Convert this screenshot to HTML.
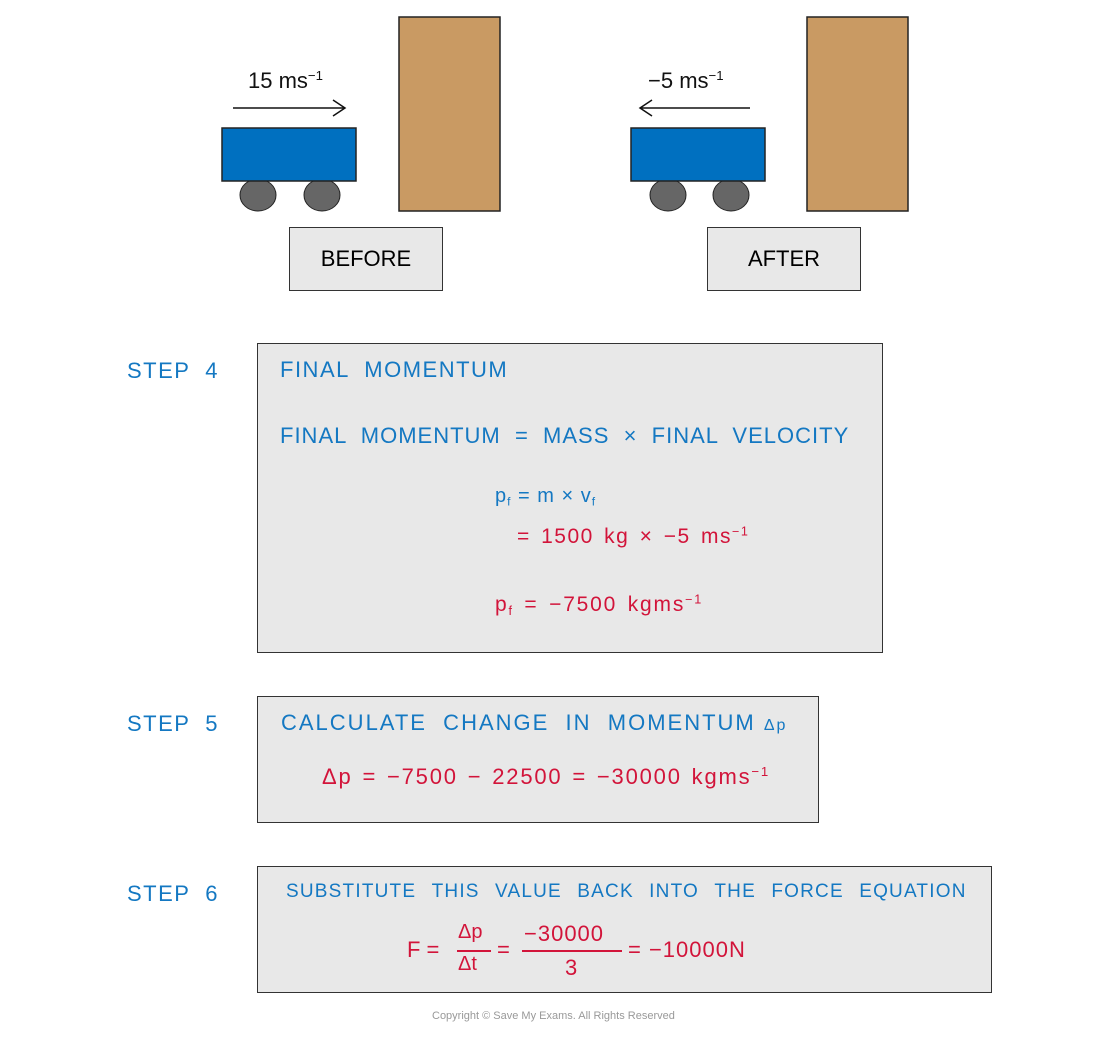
<!DOCTYPE html>
<html><head><meta charset="utf-8"><style>
body{margin:0;width:1100px;height:1037px;background:#fff;position:relative;font-family:"Liberation Sans",sans-serif;overflow:hidden}
.a{position:absolute;white-space:nowrap}
.box{position:absolute;background:#e8e8e8;border:1.5px solid #333;box-sizing:border-box}
.b{color:#1478c2}.r{color:#d2143a}
.lbl{font-size:22px;letter-spacing:1.5px}
sup{font-size:60%;vertical-align:0.6em;line-height:0}
sub{font-size:60%;vertical-align:-0.3em;line-height:0}
</style></head><body>
<svg class="a" style="left:0;top:0" width="1100" height="300">
<rect x="399" y="17" width="101" height="194" fill="#c99a63" stroke="#222" stroke-width="1.5"/>
<rect x="807" y="17" width="101" height="194" fill="#c99a63" stroke="#222" stroke-width="1.5"/>
<ellipse cx="258" cy="195" rx="18" ry="16" fill="#666" stroke="#222"/>
<ellipse cx="322" cy="195" rx="18" ry="16" fill="#666" stroke="#222"/>
<ellipse cx="668" cy="195" rx="18" ry="16" fill="#666" stroke="#222"/>
<ellipse cx="731" cy="195" rx="18" ry="16" fill="#666" stroke="#222"/>
<rect x="222" y="128" width="134" height="53" fill="#0070c0" stroke="#222" stroke-width="1.5"/>
<rect x="631" y="128" width="134" height="53" fill="#0070c0" stroke="#222" stroke-width="1.5"/>
<g stroke="#111" stroke-width="1.5" fill="none">
<path d="M233 108H345M333 100L345 108L333 116"/>
<path d="M640 108H750M652 100L640 108L652 116"/>
</g>
</svg>
<div class="a" style="left:248px;top:68px;font-size:22px;color:#111">15 ms<sup>−1</sup></div>
<div class="a" style="left:648px;top:68px;font-size:22px;color:#111">−5 ms<sup>−1</sup></div>
<div class="box" style="left:289px;top:227px;width:154px;height:64px;text-align:center;line-height:62px;font-size:22px">BEFORE</div>
<div class="box" style="left:707px;top:227px;width:154px;height:64px;text-align:center;line-height:62px;font-size:22px">AFTER</div>

<div class="a b lbl" style="left:127px;top:358px">STEP &nbsp;4</div>
<div class="box" style="left:257px;top:343px;width:626px;height:310px"></div>
<div class="a b lbl" style="left:280px;top:357px">FINAL &nbsp;MOMENTUM</div>
<div class="a b lbl" style="left:280px;top:423px;letter-spacing:1px">FINAL &nbsp;MOMENTUM &nbsp;= &nbsp;MASS &nbsp;× &nbsp;FINAL &nbsp;VELOCITY</div>
<div class="a b" style="left:495px;top:485px;font-size:20px;letter-spacing:1px">p<sub>f</sub> = m × v<sub>f</sub></div>
<div class="a r" style="left:517px;top:525px;font-size:21px;letter-spacing:1.5px;word-spacing:3px">= 1500 kg × −5 ms<sup>−1</sup></div>
<div class="a r" style="left:495px;top:593px;font-size:21px;letter-spacing:1.8px;word-spacing:3px">p<sub>f</sub> = −7500 kgms<sup>−1</sup></div>

<div class="a b lbl" style="left:127px;top:711px">STEP &nbsp;5</div>
<div class="box" style="left:257px;top:696px;width:562px;height:127px"></div>
<div class="a b lbl" style="left:281px;top:710px;letter-spacing:2px">CALCULATE &nbsp;CHANGE &nbsp;IN &nbsp;MOMENTUM <span style="font-size:16px">Δp</span></div>
<div class="a r" style="left:322px;top:764px;font-size:22px;letter-spacing:1.8px;word-spacing:2px">Δp = −7500 − 22500 = −30000 kgms<sup>−1</sup></div>

<div class="a b lbl" style="left:127px;top:881px">STEP &nbsp;6</div>
<div class="box" style="left:257px;top:866px;width:735px;height:127px"></div>
<div class="a b" style="left:286px;top:881px;font-size:19px;letter-spacing:1.2px;word-spacing:1.2px">SUBSTITUTE &nbsp;THIS &nbsp;VALUE &nbsp;BACK &nbsp;INTO &nbsp;THE &nbsp;FORCE &nbsp;EQUATION</div>
<div class="a r" style="left:407px;top:937px;font-size:22px">F =</div>
<div class="a r" style="left:458px;top:921px;font-size:20px">Δp</div>
<div class="a" style="left:457px;top:950px;width:34px;height:2px;background:#d2143a"></div>
<div class="a r" style="left:458px;top:953px;font-size:20px">Δt</div>
<div class="a r" style="left:497px;top:937px;font-size:22px">=</div>
<div class="a r" style="left:524px;top:921px;font-size:22px;letter-spacing:1px">−30000</div>
<div class="a" style="left:522px;top:950px;width:100px;height:2px;background:#d2143a"></div>
<div class="a r" style="left:565px;top:955px;font-size:22px">3</div>
<div class="a r" style="left:628px;top:937px;font-size:22px;letter-spacing:1px">= −10000N</div>

<div class="a" style="left:432px;top:1010px;font-size:11px;color:#999">Copyright © Save My Exams. All Rights Reserved</div>
</body></html>
